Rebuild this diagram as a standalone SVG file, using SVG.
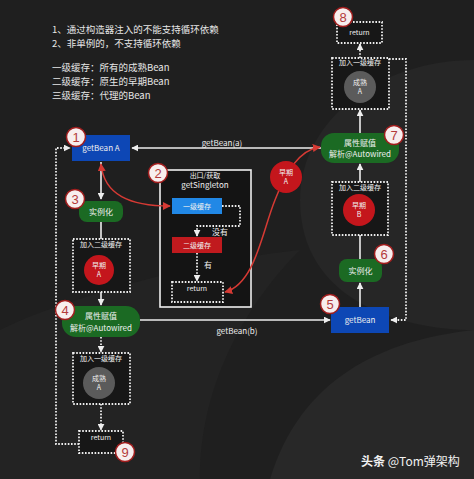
<svg xmlns="http://www.w3.org/2000/svg" width="474" height="479" viewBox="0 0 474 479">
<defs>
<style>
text{font-family:"Noto Sans CJK SC","Liberation Sans",sans-serif;fill:#f0f0f0}
.note{font-size:9.5px;fill:#e6e6e6}
.lbl{font-size:8px;text-anchor:middle}
.sm{font-size:7px;text-anchor:middle}
.line{stroke:#eeeeee;stroke-width:1.6;fill:none}
.dot{stroke:#eeeeee;stroke-width:1.8;fill:none;stroke-dasharray:1.6 1.6}
.dbox{stroke:#eeeeee;stroke-width:1.8;fill:#171717;stroke-dasharray:1.6 1.6}
.red{stroke:#d63a34;stroke-width:1.5;fill:none}
.blue{fill:#0d47b5}
.green{fill:#1b6a23}
.badge circle{fill:#f7eeee;stroke:#a11d1d;stroke-width:1.5}
.badge text{fill:#b33a3a;font-family:"Liberation Sans",sans-serif;font-size:13px;text-anchor:middle}
</style>
<marker id="aw" viewBox="0 0 10 10" refX="9" refY="5" markerWidth="7" markerHeight="7" markerUnits="userSpaceOnUse" orient="auto-start-reverse"><path d="M0,0 L10,5 L0,10 z" fill="#eeeeee"/></marker>
<marker id="ar" viewBox="0 0 10 10" refX="9" refY="5" markerWidth="8" markerHeight="8" markerUnits="userSpaceOnUse" orient="auto-start-reverse"><path d="M0,0 L10,5 L0,10 z" fill="#d63a34"/></marker>
</defs>
<rect width="474" height="479" fill="#1f1f1f"/>
<path d="M474,60 C380,60 300,120 300,200 C300,300 400,330 474,330 Z" fill="#262626"/>
<path d="M474,330 C380,340 300,380 270,479 L474,479 Z" fill="#282828"/>
<path d="M0,479 L0,330 C60,300 200,260 300,250 C250,300 200,380 200,479 Z" fill="#232323"/>

<g id="notes">
<text class="note" x="52" y="33">1、通过构造器注入的不能支持循环依赖</text>
<text class="note" x="52" y="47">2、非单例的，不支持循环依赖</text>
<text class="note" x="52" y="71">一级缓存：所有的成熟Bean</text>
<text class="note" x="52" y="85">二级缓存：原生的早期Bean</text>
<text class="note" x="52" y="99">三级缓存：代理的Bean</text>
</g>

<g id="n2"><rect x="160" y="170" width="91" height="137" fill="#141414" stroke="#eeeeee" stroke-width="1.6"/><text class="sm" x="205" y="178">出口/获取</text><text class="lbl" x="205" y="188">getSingleton</text></g>

<g id="connectors">
<path class="dot" d="M79,444 H56 V148 H70" marker-end="url(#aw)"/>
<path class="line" d="M101,162 V199" marker-end="url(#aw)"/>
<path class="line" d="M101,222 V239"/>
<path class="line" d="M101,292 V305" marker-end="url(#aw)"/>
<path class="dot" d="M101,337 V352" marker-end="url(#aw)"/>
<path class="dot" d="M101,404 V430" marker-end="url(#aw)"/>
<path class="line" d="M140,320 H330" marker-end="url(#aw)"/>
<text class="lbl" x="237" y="334">getBean(b)</text>
<path class="line" d="M321,148 H132" marker-end="url(#aw)"/>
<text class="lbl" x="222" y="146">getBean(a)</text>
<path class="dot" d="M222,206 H240 V226 H197 V236" marker-end="url(#aw)"/>
<text class="lbl" x="220" y="235">没有</text>
<path class="dot" d="M197,253 V281" marker-end="url(#aw)"/>
<text class="lbl" x="208" y="268">有</text>
<path class="red" d="M101,164 C104,195 130,206 170,206" marker-start="url(#ar)" marker-end="url(#ar)"/>
<path class="red" d="M225,292 C255,284 262,232 275,200 C285,174 298,150 320,147" marker-start="url(#ar)" marker-end="url(#ar)"/>
<path class="line" d="M360,307 V283" marker-end="url(#aw)"/>
<path class="line" d="M360,259 V235"/>
<path class="line" d="M360,182 V164" marker-end="url(#aw)"/>
<path class="line" d="M360,133 V110" marker-end="url(#aw)"/>
<path class="dot" d="M360,58 V44" marker-end="url(#aw)"/>
<path class="dot" d="M389,59 H406 V320 H391" marker-end="url(#aw)"/>
</g>

<g id="n1"><rect class="blue" x="72" y="135" width="58" height="26"/><text class="lbl" x="101" y="151">getBean A</text></g>
<g id="n3"><rect class="green" x="79" y="201" width="44" height="21" rx="8"/><text class="lbl" x="101" y="214.5">实例化</text></g>
<g id="early-a-left"><rect class="dbox" x="73" y="239" width="57" height="53"/><text class="sm" x="101" y="247">加入二级缓存</text><circle cx="99" cy="270" r="15" fill="#c4161c"/><text class="sm" x="99" y="268">早期</text><text class="sm" x="99" y="277">A</text></g>
<g id="n4"><rect class="green" x="62" y="306" width="78" height="31" rx="14"/><text class="lbl" x="101" y="319">属性赋值</text><text class="lbl" x="101" y="331">解析@Autowired</text></g>
<g id="mature-a-left"><rect class="dbox" x="73" y="353" width="57" height="51"/><text class="sm" x="101" y="361">加入一级缓存</text><circle cx="99" cy="383" r="16" fill="#5b5b5b"/><text class="sm" x="99" y="381">成熟</text><text class="sm" x="99" y="390">A</text></g>
<g id="n9"><rect class="dbox" x="79" y="431" width="44" height="22"/><text class="sm" x="101" y="440">return</text></g>

<g id="cache1"><rect x="172" y="198" width="50" height="16" fill="#2188e6"/><text class="sm" x="197" y="208.5">一级缓存</text></g>
<g id="cache2"><rect x="172" y="237" width="50" height="16" fill="#c01a1e"/><text class="sm" x="197" y="247.5">二级缓存</text></g>
<g id="ret-center"><rect class="dbox" x="172" y="282" width="51" height="20"/><text class="sm" x="197" y="291">return</text></g>
<g id="early-a-mid"><circle cx="286" cy="177" r="16" fill="#c4161c"/><text class="sm" x="286" y="175">早期</text><text class="sm" x="286" y="184">A</text></g>

<g id="n5"><rect class="blue" x="331" y="307" width="58" height="26"/><text class="lbl" x="360" y="323">getBean</text></g>
<g id="n6"><rect class="green" x="339" y="259" width="43" height="23" rx="8"/><text class="lbl" x="360.5" y="273.5">实例化</text></g>
<g id="early-b"><rect class="dbox" x="332" y="182" width="56" height="53"/><text class="sm" x="360" y="190">加入二级缓存</text><circle cx="359" cy="210" r="16" fill="#c4161c"/><text class="sm" x="359" y="208">早期</text><text class="sm" x="359" y="217">B</text></g>
<g id="n7"><rect class="green" x="321" y="133" width="78" height="30" rx="13"/><text class="lbl" x="360" y="146">属性赋值</text><text class="lbl" x="360" y="157">解析@Autowired</text></g>
<g id="mature-a-right"><rect class="dbox" x="332" y="58" width="57" height="51"/><text class="sm" x="360" y="65">加入一级缓存</text><circle cx="360" cy="87" r="16" fill="#5b5b5b"/><text class="sm" x="360" y="85">成熟</text><text class="sm" x="360" y="94">A</text></g>
<g id="n8"><rect class="dbox" x="337" y="22" width="45" height="21"/><text class="sm" x="359.5" y="35">return</text></g>

<g id="badges">
<g class="badge"><circle cx="76" cy="137" r="9.5"/><text x="76" y="142">1</text></g>
<g class="badge"><circle cx="158" cy="173" r="9.5"/><text x="158" y="178">2</text></g>
<g class="badge"><circle cx="75" cy="199" r="9.5"/><text x="75" y="204">3</text></g>
<g class="badge"><circle cx="65" cy="310" r="9.5"/><text x="65" y="315">4</text></g>
<g class="badge"><circle cx="330" cy="304" r="9.5"/><text x="330" y="309">5</text></g>
<g class="badge"><circle cx="384" cy="254" r="9.5"/><text x="384" y="259">6</text></g>
<g class="badge"><circle cx="394" cy="135" r="9.5"/><text x="394" y="140">7</text></g>
<g class="badge"><circle cx="343" cy="17" r="9.5"/><text x="343" y="22">8</text></g>
<g class="badge"><circle cx="125" cy="452" r="9.5"/><text x="125" y="457">9</text></g>
</g>

<text x="361" y="466" style="font-size:12px;font-weight:bold;fill:#f2f2f2">头条 <tspan style="font-weight:normal">@Tom弹架构</tspan></text>
</svg>
